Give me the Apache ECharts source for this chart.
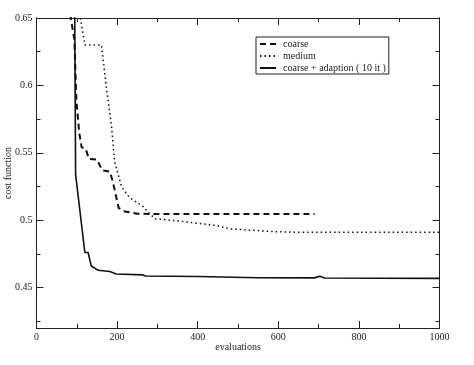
<!DOCTYPE html>
<html>
<head>
<meta charset="utf-8">
<script src="https://cdn.jsdelivr.net/npm/echarts@6/dist/echarts.min.js"></script>
<style>html,body{margin:0;padding:0;background:#fff;}#c{width:474px;height:365px;}</style>
</head>
<body>
<div id="c"></div>
<script>
var seriesNames = ['coarse', 'medium', 'coarse + adaption ( 10 it )'];
var coarse = [[80,0.69],[85,0.65],[94,0.634],[99,0.589],[106,0.565],[112,0.554],[122,0.553],[130,0.5455],[150,0.545],[163,0.537],[182,0.536],[189,0.529],[204,0.509],[219,0.5065],[250,0.5048],[300,0.5045],[690,0.5045]];
var medium = [[105,0.69],[109,0.65],[120,0.630],[161,0.630],[174,0.597],[186,0.57],[194,0.543],[211,0.525],[230,0.517],[250,0.513],[265,0.510],[280,0.505],[295,0.501],[350,0.4995],[447,0.496],[480,0.4935],[590,0.4915],[650,0.491],[1000,0.491]];
var adaption = [[94,0.70],[97,0.534],[120,0.476],[128,0.476],[136,0.466],[153,0.4628],[182,0.4619],[198,0.4601],[264,0.4594],[270,0.4586],[400,0.4582],[550,0.4573],[690,0.4572],[703,0.4584],[715,0.4571],[850,0.4569],[1000,0.4568]];
var yMajor = [0.45, 0.5, 0.55, 0.6, 0.65];
var yMinor = [0.425, 0.475, 0.525, 0.575, 0.625];
var yLabels = ['0.45', '0.5', '0.55', '0.6', '0.65'];

var font = 'Liberation Serif';
var axCol = '#222';
function yAxisDef(pos, ticks, len, labels) {
  return {
    type: 'value', position: pos, min: 0.42, max: 0.65,
    axisLine: {show: true, lineStyle: {color: axCol, width: 1}},
    axisTick: {show: true, inside: true, length: len, customValues: ticks, lineStyle: {color: axCol}},
    axisLabel: labels ? {show: true, customValues: yMajor, margin: 4, fontFamily: font, fontSize: 10, color: axCol,
      formatter: function (v) { var i = yMajor.findIndex(function (m) { return Math.abs(m - v) < 1e-6; }); return i >= 0 ? yLabels[i] : ''; }} : {show: false},
    splitLine: {show: false},
    name: labels ? 'cost function' : '', nameLocation: 'middle', nameGap: 23, nameMoveOverlap: false,
    nameTextStyle: {fontFamily: font, fontSize: 10, color: axCol}
  };
}
function xAxisDef(pos, labels) {
  return {
    type: 'value', position: pos, min: 0, max: 1000, interval: 200,
    axisLine: {show: true, lineStyle: {color: axCol, width: 1}},
    axisTick: {show: true, inside: true, length: 7, lineStyle: {color: axCol}},
    minorTick: {show: true, splitNumber: 2, length: 4, lineStyle: {color: axCol}},
    axisLabel: labels ? {show: true, margin: 4, fontFamily: font, fontSize: 10, color: axCol,
      formatter: function (v) { return String(v); }} : {show: false},
    splitLine: {show: false},
    name: labels ? 'evaluations' : '', nameLocation: 'middle', nameGap: 14, nameMoveOverlap: false,
    nameTextStyle: {fontFamily: font, fontSize: 10, color: axCol}
  };
}
var chart = echarts.init(document.getElementById('c'), null, {renderer: 'canvas'});
chart.setOption({
  backgroundColor: '#fff',
  animation: false,
  grid: {left: 36.5, right: 34.5, top: 18, bottom: 37, containLabel: false, outerBoundsMode: 'none'},
  xAxis: [xAxisDef('bottom', true), xAxisDef('top', false)],
  yAxis: [yAxisDef('left', yMajor, 7, true), yAxisDef('left', yMinor, 4, false),
          yAxisDef('right', yMajor, 7, false), yAxisDef('right', yMinor, 4, false)],
  legend: {
    orient: 'vertical', left: 256, top: 37,
    borderColor: '#222', borderWidth: 1, padding: [2, 3, 1, 3],
    itemWidth: 16, itemHeight: 9, itemGap: 2,
    itemStyle: {opacity: 0},
    textStyle: {fontFamily: font, fontSize: 10, color: axCol, padding: [0,0,0,2]},
    data: seriesNames
  },
  series: [
    {name: seriesNames[0], type: 'line', data: coarse, symbol: 'none', clip: true,
     lineStyle: {color: '#111', width: 2, type: [6, 4]}, itemStyle: {color: '#111'}},
    {name: seriesNames[1], type: 'line', data: medium, symbol: 'none', clip: true,
     lineStyle: {color: '#111', width: 1.5, type: [1.5, 3]}, itemStyle: {color: '#111'}},
    {name: seriesNames[2], type: 'line', data: adaption, symbol: 'none', clip: true,
     lineStyle: {color: '#111', width: 1.6, type: 'solid'}, itemStyle: {color: '#111'}}
  ]
});
</script>
</body>
</html>
